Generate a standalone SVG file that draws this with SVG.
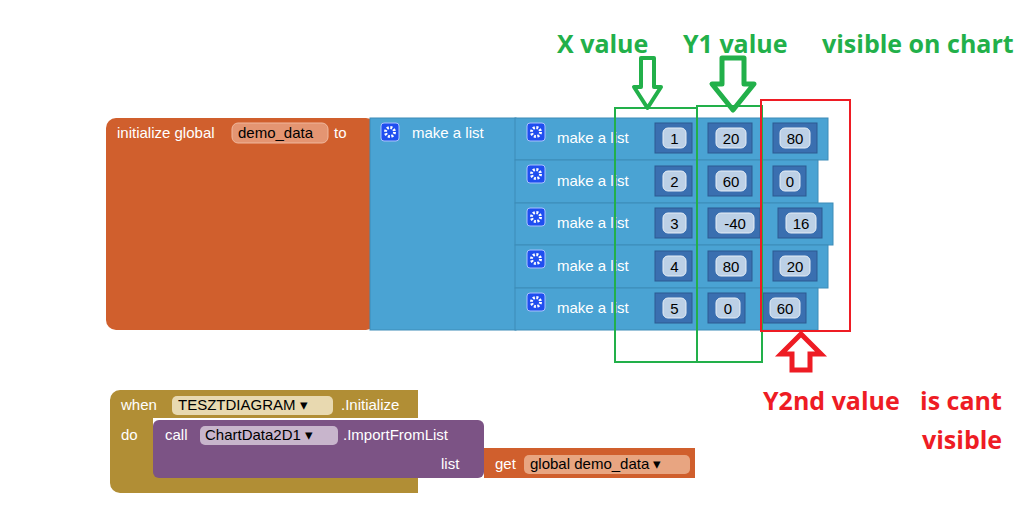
<svg xmlns="http://www.w3.org/2000/svg" width="1035" height="528" viewBox="0 0 1035 528">
<style>
.t{font-family:"Liberation Sans",Arial,sans-serif;font-size:15px;fill:#fff}
.d{font-family:"Liberation Sans",Arial,sans-serif;font-size:15px;fill:#000}
.row{fill:#4aa3d3;stroke:#3d8cb8;stroke-width:1}
.sock{fill:#3a6fb0;stroke:#2d5a91;stroke-width:1}
.pill{fill:#bcd0e6;stroke:#e6eef6;stroke-width:1}
.gear{fill:#1f4ef0;stroke:#a9c0ff;stroke-width:1}
.g{font-family:"Open Sans","DejaVu Sans",sans-serif;font-weight:bold;font-size:25px;fill:#22b04a}
.r{font-family:"Open Sans","DejaVu Sans",sans-serif;font-weight:bold;font-size:25px;fill:#ee1c24}
</style>
<defs>
<g id="gear"><rect x="-9" y="-9" width="18" height="18" rx="3" class="gear"/><circle r="4.5" fill="none" stroke="#fff" stroke-width="3" stroke-dasharray="2 1.5"/></g>
</defs>
<rect width="1035" height="528" fill="#fff"/>
<g id="init">
<rect x="106" y="118" width="270" height="212" rx="10" fill="#d05f2d"/>
<rect x="232" y="123" width="96" height="20" rx="6" fill="#e49572" stroke="#f0b89e"/>
<text class="t" x="117" y="138">initialize global</text>
<text class="d" x="238" y="138">demo_data</text>
<text class="t" x="334" y="138">to</text>
</g>
<g id="outerlist">
<rect x="370" y="118" width="146" height="212" fill="#4aa3d3" stroke="#3d8cb8"/>
<use href="#gear" x="390" y="132"/>
<text class="t" x="412" y="138">make a list</text>
</g>
<g id="rows">
<rect class="row" x="515" y="118" width="313" height="42"/>
<rect class="row" x="515" y="160" width="303" height="43"/>
<rect class="row" x="515" y="203" width="318" height="42"/>
<rect class="row" x="515" y="245" width="313" height="43"/>
<rect class="row" x="515" y="288" width="303" height="42"/>
<g class="t">
<text x="557" y="143">make a list</text><text x="557" y="186">make a list</text><text x="557" y="228">make a list</text><text x="557" y="271">make a list</text><text x="557" y="313">make a list</text>
</g>
<use href="#gear" x="536" y="132"/><use href="#gear" x="536" y="174"/><use href="#gear" x="536" y="217"/><use href="#gear" x="536" y="259"/><use href="#gear" x="536" y="302"/>
</g>
<g id="numbers">
<rect class="sock" x="655" y="123" width="37" height="30"/><rect class="pill" x="663" y="128" width="23" height="20" rx="5"/>
<rect class="sock" x="708" y="123" width="44" height="30"/><rect class="pill" x="716" y="128" width="30" height="20" rx="5"/>
<rect class="sock" x="773" y="123" width="44" height="30"/><rect class="pill" x="780" y="128" width="30" height="20" rx="5"/>
<rect class="sock" x="655" y="166" width="37" height="30"/><rect class="pill" x="663" y="171" width="23" height="20" rx="5"/>
<rect class="sock" x="708" y="166" width="44" height="30"/><rect class="pill" x="716" y="171" width="30" height="20" rx="5"/>
<rect class="sock" x="773" y="166" width="33" height="30"/><rect class="pill" x="780" y="171" width="20" height="20" rx="5"/>
<rect class="sock" x="655" y="208" width="37" height="30"/><rect class="pill" x="663" y="213" width="23" height="20" rx="5"/>
<rect class="sock" x="708" y="208" width="52" height="30"/><rect class="pill" x="716" y="213" width="38" height="20" rx="5"/>
<rect class="sock" x="778" y="208" width="44" height="30"/><rect class="pill" x="786" y="213" width="30" height="20" rx="5"/>
<rect class="sock" x="655" y="251" width="37" height="30"/><rect class="pill" x="663" y="256" width="23" height="20" rx="5"/>
<rect class="sock" x="708" y="251" width="44" height="30"/><rect class="pill" x="716" y="256" width="30" height="20" rx="5"/>
<rect class="sock" x="773" y="251" width="44" height="30"/><rect class="pill" x="780" y="256" width="30" height="20" rx="5"/>
<rect class="sock" x="655" y="293" width="37" height="30"/><rect class="pill" x="663" y="298" width="23" height="20" rx="5"/>
<rect class="sock" x="708" y="293" width="37" height="30"/><rect class="pill" x="716" y="298" width="24" height="20" rx="5"/>
<rect class="sock" x="763" y="293" width="43" height="30"/><rect class="pill" x="770" y="298" width="30" height="20" rx="5"/>
<g class="d" text-anchor="middle">
<text x="674.5" y="144">1</text><text x="731" y="144">20</text><text x="795" y="144">80</text>
<text x="674.5" y="187">2</text><text x="731" y="187">60</text><text x="790" y="187">0</text>
<text x="674.5" y="229">3</text><text x="735" y="229">-40</text><text x="801" y="229">16</text>
<text x="674.5" y="272">4</text><text x="731" y="272">80</text><text x="795" y="272">20</text>
<text x="674.5" y="314">5</text><text x="728" y="314">0</text><text x="785" y="314">60</text>
</g>
</g>
<g id="event">
<path d="M110 400 a10 10 0 0 1 10 -10 H418 V418 H153 V470 H418 V493 H120 a10 10 0 0 1 -10 -10 Z" fill="#b18e35"/>
<rect x="172" y="396" width="161" height="19" rx="5" fill="#e8d9b0"/>
<text class="t" x="121" y="410">when</text>
<text class="d" x="178" y="410">TESZTDIAGRAM ▾</text>
<text class="t" x="341" y="410">.Initialize</text>
<text class="t" x="121" y="440">do</text>
</g>
<g id="call">
<rect x="153" y="420" width="331" height="58" rx="6" fill="#7c5385"/>
<rect x="200" y="426" width="138" height="19" rx="5" fill="#c8b5cc"/>
<text class="t" x="165" y="440">call</text>
<text class="d" x="205" y="440">ChartData2D1 ▾</text>
<text class="t" x="343" y="440">.ImportFromList</text>
<text class="t" x="441" y="469">list</text>
</g>
<g id="get">
<rect x="484" y="448" width="211" height="30" fill="#d05f2d"/>
<rect x="524" y="455" width="166" height="19" rx="5" fill="#e8a581"/>
<text class="t" x="495" y="469">get</text>
<text class="d" x="530" y="469">global demo_data ▾</text>
</g>
<g id="connectors" fill="none" stroke-width="3">
<rect x="615" y="108" width="82" height="254" stroke="#22b04a" stroke-width="2"/>
<rect x="697" y="106" width="65" height="256" stroke="#22b04a" stroke-width="2"/>
<rect x="761" y="100" width="89" height="231" stroke="#ee1c24" stroke-width="2"/>
<path d="M641 58 H654 V87 H661 L647.5 108 L634 87 H641 Z" stroke="#22b04a" stroke-width="4" stroke-linejoin="round"/>
<path d="M722 58 H744 V84 H754 L733 110 L712 84 H722 Z" stroke="#22b04a" stroke-width="5" stroke-linejoin="round"/>
<path d="M801 334 L821 354 H810 V370 H792 V354 H781 Z" stroke="#ee1c24" stroke-width="5" stroke-linejoin="miter"/>
</g>
<g id="labels">
<text class="g" x="557" y="53">X value</text>
<text class="g" x="683" y="53">Y1 value</text>
<text class="g" x="822" y="53">visible on chart</text>
<text class="r" x="763" y="410">Y2nd value</text>
<text class="r" x="920" y="410">is cant</text>
<text class="r" x="922" y="449">visible</text>
</g>
</svg>
